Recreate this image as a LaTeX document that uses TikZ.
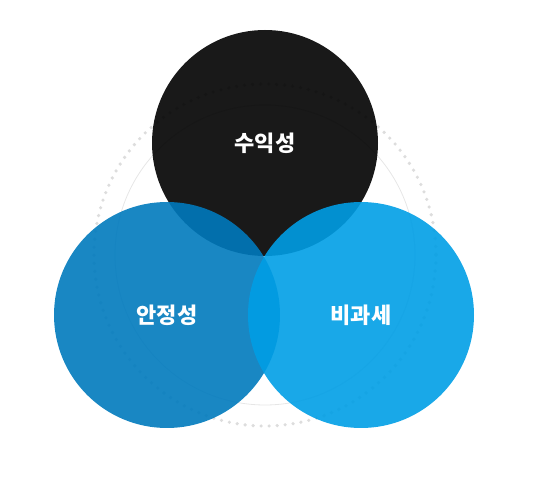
\documentclass[tikz,border=0pt]{standalone}
\usepackage{fontspec}
\newfontfamily\krfont{Noto Sans CJK KR}
\definecolor{topblack}{RGB}{0,0,0}
\definecolor{leftblue}{RGB}{0,122,189}
\definecolor{rightblue}{RGB}{0,158,229}
\definecolor{dotgray}{HTML}{DDDDDD}
\definecolor{ringgray}{HTML}{E6E6E6}
\tikzset{
  bubble/.style={circle, inner sep=0pt, minimum size=226pt, fill opacity=0.9,
    text opacity=1, text=white, font=\krfont\bfseries\fontsize{22}{26}\selectfont}
}

\begin{document}
\begin{tikzpicture}[x=1pt,y=-1pt]
\useasboundingbox (0,0) rectangle (555,486);
\coordinate (hub) at (265,255);
\draw[dotgray, line width=3.6pt, line cap=round, dash pattern=on 0pt off 8.015pt] (hub) circle (171);
\draw[ringgray, line width=0.8pt] (hub) circle (150);
\node[bubble, fill=topblack] (profit) at (265,143) {수익성};
\node[bubble, fill=leftblue] (safety) at (167,315) {안정성};
\node[bubble, fill=rightblue] (taxfree) at (361,315) {비과세};
\end{tikzpicture}
\end{document}
